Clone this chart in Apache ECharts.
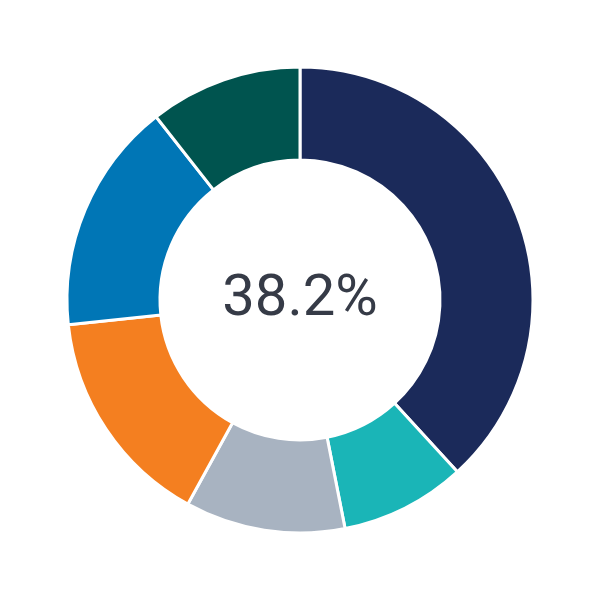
<!DOCTYPE html>
<html>
<head>
<meta charset="utf-8">
<script src="https://cdn.jsdelivr.net/npm/echarts@6/dist/echarts.min.js"></script>
<style>html,body{margin:0;padding:0;background:#fff;}#c{width:600px;height:600px;}</style>
</head>
<body>
<div id="c"></div>
<script>
const categories = ['A', 'B', 'C', 'D', 'E', 'F'];
const values = [38.2, 8.7, 11.1, 15.3, 16.1, 10.6];
const colors = ['#1b2a5a', '#1ab5b7', '#a8b3c1', '#f47f20', '#0076b6', '#00544f'];
const centerLabel = '38.2%';

const chart = echarts.init(document.getElementById('c'));
chart.setOption({
  animation: false,
  graphic: [{
    type: 'text',
    left: 'center',
    top: 'middle',
    style: {
      text: centerLabel,
      font: '58px Roboto',
      fill: '#363b47'
    }
  }],
  series: [{
    type: 'pie',
    center: [300, 300],
    radius: [140, 233],
    startAngle: 90,
    clockwise: true,
    label: { show: false },
    labelLine: { show: false },
    itemStyle: { borderColor: '#fff', borderWidth: 3 },
    emphasis: { disabled: true },
    data: categories.map((c, i) => ({ name: c, value: values[i], itemStyle: { color: colors[i] } }))
  }]
});
</script>
</body>
</html>
